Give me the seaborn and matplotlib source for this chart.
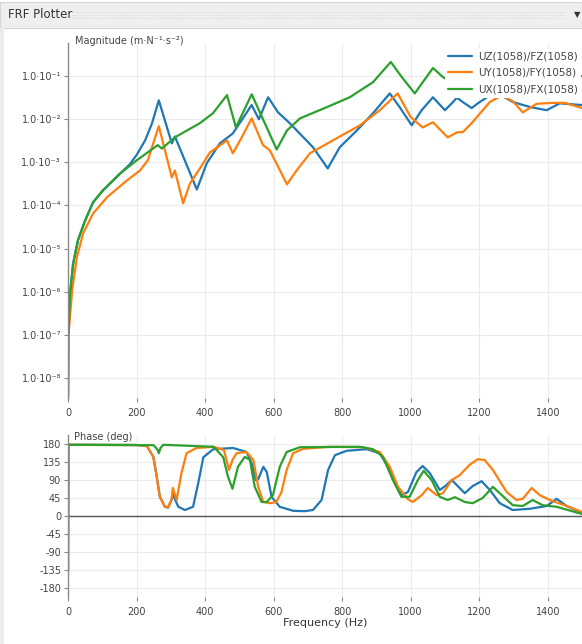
import numpy as np
import pandas as pd
import matplotlib.pyplot as plt
import seaborn as sns
from matplotlib.patches import Rectangle
from matplotlib.lines import Line2D

# series names / colours
series = ['UZ(1058)/FZ(1058)', 'UY(1058)/FY(1058)', 'UX(1058)/FX(1058)']
colors = ['#1f77b4', '#ff7f0e', '#2ca02c']

# magnitude (frequency Hz, log10 of magnitude)
uz_mag_f = [0, 1, 6, 15, 29, 50, 73, 102, 152, 180, 201, 225, 245, 265, 303, 312, 376, 405, 443, 481,
            536, 557, 584, 613, 647, 715, 758, 793, 843, 890, 939, 968, 1003, 1032, 1065, 1100, 1120,
            1135, 1152, 1178, 1196, 1230, 1265, 1298, 1350, 1397, 1435, 1500]
uz_mag_log = [-8.5, -7.0, -6.05, -5.35, -4.81, -4.35, -3.93, -3.65, -3.26, -3.05, -2.82, -2.49, -2.1,
              -1.56, -2.56, -2.40, -3.63, -3.02, -2.56, -2.33, -1.67, -2.0, -1.49, -1.84, -2.09, -2.65,
              -3.14, -2.65, -2.26, -1.86, -1.40, -1.72, -2.14, -1.79, -1.49, -1.79, -1.63, -1.50, -1.60,
              -1.74, -1.63, -1.45, -1.45, -1.60, -1.72, -1.79, -1.63, -1.67]

uy_mag_f = [0, 1, 12, 26, 44, 73, 114, 172, 210, 233, 245, 265, 303, 312, 336, 356, 385, 414, 464, 481,
            507, 536, 569, 589, 639, 667, 706, 773, 852, 910, 962, 1000, 1035, 1065, 1108, 1137, 1152,
            1178, 1231, 1265, 1298, 1327, 1368, 1414, 1450, 1500]
uy_mag_log = [-8.5, -7.05, -5.98, -5.2, -4.65, -4.19, -3.81, -3.42, -3.19, -2.95, -2.65, -2.16, -3.35,
              -3.19, -3.95, -3.49, -3.14, -2.77, -2.49, -2.79, -2.42, -1.98, -2.6, -2.72, -3.51, -3.19,
              -2.79, -2.49, -2.14, -1.79, -1.40, -1.95, -2.19, -2.07, -2.42, -2.30, -2.30, -2.09, -1.60,
              -1.45, -1.58, -1.84, -1.64, -1.62, -1.62, -1.74]

ux_mag_f = [0, 1, 6, 15, 29, 50, 73, 102, 152, 201, 262, 274, 312, 385, 423, 464, 490, 536, 609, 639,
            677, 755, 822, 890, 942, 974, 1012, 1065, 1094, 1130, 1200, 1300, 1400, 1500]
ux_mag_log = [-8.5, -7.05, -6.05, -5.35, -4.81, -4.35, -3.93, -3.65, -3.26, -2.95, -2.6, -2.68, -2.42,
              -2.09, -1.86, -1.44, -2.19, -1.42, -2.70, -2.26, -1.98, -1.72, -1.49, -1.14, -0.67, -1.02,
              -1.40, -0.81, -1.02, -1.2, -0.9, -0.8, -0.9, -1.0]

# phase (frequency Hz, degrees)
uz_ph_f = [0, 1, 200, 230, 249, 259, 268, 283, 292, 302, 306, 313, 322, 341, 365, 380, 395, 424, 482,
           521, 536, 548, 555, 570, 580, 594, 618, 657, 690, 715, 740, 759, 779, 813, 871, 910, 939, 973,
           992, 1017, 1035, 1056, 1085, 1104, 1120, 1137, 1158, 1181, 1207, 1231, 1260, 1298, 1347,
           1397, 1426, 1455, 1500]
uz_ph = [-140, 178, 177.5, 175, 148, 98, 48, 23, 21, 40, 55, 40, 23, 15, 23, 82, 147, 167, 170, 160,
         132, 90, 92, 123, 110, 48, 23, 13, 12, 15, 40, 115, 152, 163, 167, 157, 115, 52, 60, 110, 125,
         107, 65, 77, 90, 75, 57, 75, 87, 65, 32, 15, 18, 25, 43, 25, 8]

uy_ph_f = [0, 1, 200, 230, 249, 259, 268, 283, 292, 302, 306, 317, 331, 346, 375, 425, 455, 470, 480,
           492, 521, 541, 555, 570, 589, 608, 623, 638, 657, 686, 764, 861, 910, 939, 963, 992, 1006,
           1032, 1050, 1076, 1094, 1120, 1143, 1172, 1196, 1216, 1240, 1280, 1309, 1327, 1353, 1377,
           1406, 1455, 1500]
uy_ph = [-140, 178, 177.5, 175, 148, 98, 48, 23, 22, 40, 70, 40, 107, 157, 170, 173, 165, 115, 140,
         157, 160, 140, 73, 35, 32, 35, 60, 115, 157, 168, 173, 172, 160, 123, 73, 42, 35, 52, 70, 52,
         57, 90, 102, 128, 142, 140, 115, 60, 40, 43, 70, 52, 40, 25, 10]

ux_ph_f = [0, 1, 250, 262, 265, 270, 278, 425, 453, 467, 480, 496, 516, 531, 545, 565, 580, 598, 618,
           638, 677, 852, 890, 919, 948, 973, 997, 1021, 1038, 1061, 1085, 1108, 1129, 1158, 1181, 1210,
           1240, 1266, 1298, 1327, 1356, 1385, 1426, 1500]
ux_ph = [-140, 178, 177, 165, 157, 170, 178, 173, 147, 98, 68, 123, 148, 140, 73, 35, 35, 52, 123, 160,
         172, 173, 167, 148, 90, 48, 48, 90, 113, 90, 48, 40, 47, 35, 32, 45, 73, 52, 27, 25, 40, 27,
         23, 5]

x_ticks = [0, 200, 400, 600, 800, 1000, 1200, 1400]
mag_exps = [-1, -2, -3, -4, -5, -6, -7, -8]
phase_ticks = [180, 135, 90, 45, 0, -45, -90, -135, -180]

mag = pd.concat([
    pd.DataFrame({'freq': f, 'mag': 10.0 ** np.array(v), 'series': s})
    for f, v, s in zip([uz_mag_f, uy_mag_f, ux_mag_f], [uz_mag_log, uy_mag_log, ux_mag_log], series)
])
phase = pd.concat([
    pd.DataFrame({'freq': f, 'phase': v, 'series': s})
    for f, v, s in zip([uz_ph_f, uy_ph_f, ux_ph_f], [uz_ph, uy_ph, ux_ph], series)
])

sns.set_theme(style='white')
plt.rcParams['font.family'] = ['DejaVu Sans']
plt.rcParams['axes.unicode_minus'] = False

W, H = 582, 644
fig = plt.figure(figsize=(W / 100, H / 100), dpi=100)
fig.patch.set_facecolor('white')


def box(x0, y0, x1, y1):
    # pixel box (top-left origin) -> figure fraction rect
    return [x0 / W, 1 - y1 / H, (x1 - x0) / W, (y1 - y0) / H]


# window chrome
fig.add_artist(Rectangle((0, 1 - 28 / H), 1, 26 / H, transform=fig.transFigure,
                         facecolor='#efefef', edgecolor='#d6d6d6', lw=0.8))
fig.add_artist(Rectangle((0, 0), 4 / W, 1 - 28 / H, transform=fig.transFigure,
                         facecolor='#ececec', edgecolor='none'))
fig.text(8 / W, 1 - 15 / H, 'FRF Plotter', fontsize=8.5, color='#333333', va='center')
for yy in (12, 15, 18):
    fig.add_artist(Line2D([72 / W, 566 / W], [1 - yy / H] * 2, transform=fig.transFigure,
                          color='#d2d2d2', lw=0.6, ls=(0, (1, 1.5))))
fig.text(577 / W, 1 - 15 / H, '▼', fontsize=6, color='#333333', va='center', ha='center')

tick_col = '#444444'
grid_col = '#ebebeb'


def style(ax):
    for side in ['top', 'right', 'bottom']:
        ax.spines[side].set_visible(False)
    ax.spines['left'].set_color('#8a8a8a')
    ax.spines['left'].set_linewidth(1.0)
    ax.grid(True, color=grid_col, lw=0.8)
    ax.set_axisbelow(True)
    ax.tick_params(axis='both', which='both', length=3, width=0.8, color='#888888',
                   labelsize=7, labelcolor=tick_col, pad=2, left=True, bottom=True)
    ax.set_xlim(0, 1500)
    ax.set_xticks(x_ticks)
    ax.set_xticklabels([str(t) for t in x_ticks])


# magnitude panel
ax1 = fig.add_axes(box(68, 43, 582, 398))
sns.lineplot(data=mag, x='freq', y='mag', hue='series', hue_order=series, palette=colors,
             estimator=None, sort=False, lw=1.6, legend=False, ax=ax1)
ax1.set_yscale('log')
ax1.set_ylim(10 ** -8.47, 10 ** -0.23)
sup = str.maketrans('0123456789', '⁰¹²³⁴⁵⁶⁷⁸⁹')
ax1.set_yticks([10.0 ** e for e in mag_exps])
ax1.set_yticklabels(['1.0·10⁻' + str(-e).translate(sup) for e in mag_exps])
ax1.yaxis.set_minor_locator(plt.NullLocator())
style(ax1)
ax1.set_xlabel('')
ax1.set_ylabel('')
ax1.tick_params(axis='x', pad=4)

leg = ax1.legend(handles=ax1.lines[:3], labels=series, loc='lower left',
                 bbox_to_anchor=(0.733, 0.846), borderaxespad=0, frameon=True,
                 fontsize=7.5, handlelength=2.3, handletextpad=0.6, labelspacing=0.64,
                 borderpad=0.3)
leg.get_frame().set_facecolor('white')
leg.get_frame().set_edgecolor('none')
leg.get_frame().set_alpha(1)
for t in leg.get_texts():
    t.set_color(tick_col)

fig.text(75 / W, 1 - 41 / H, 'Magnitude (m·N⁻¹·s⁻²)', fontsize=7, color=tick_col, va='center')

# phase panel
ax2 = fig.add_axes(box(68, 435, 582, 597))
sns.lineplot(data=phase, x='freq', y='phase', hue='series', hue_order=series, palette=colors,
             estimator=None, sort=False, lw=1.6, legend=False, ax=ax2)
ax2.axhline(0, color='#555555', lw=1.0, zorder=1)
ax2.set_ylim(-202.5, 202.5)
ax2.set_yticks(phase_ticks)
ax2.set_yticklabels([str(t) for t in phase_ticks])
style(ax2)
ax2.set_ylabel('')
ax2.set_xlabel('Frequency (Hz)', fontsize=8, color='#333333', labelpad=1)
ax2.tick_params(axis='x', pad=4)
fig.text(74 / W, 1 - 437 / H, 'Phase (deg)', fontsize=7, color=tick_col, va='center')

fig.savefig('out.png', dpi=100)
